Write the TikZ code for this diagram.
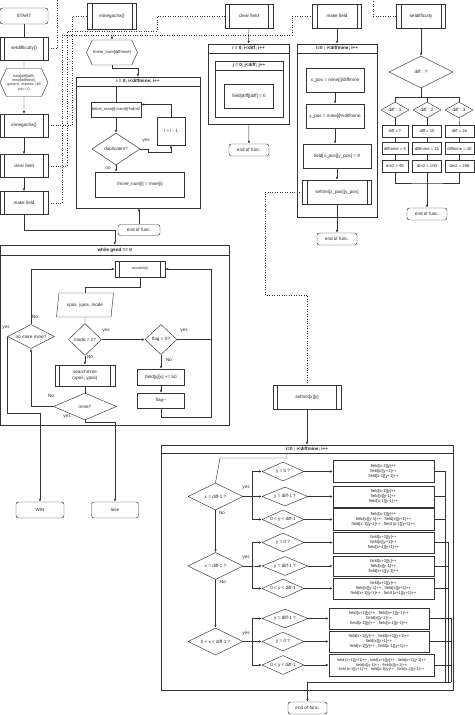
\documentclass[tikz,border=0pt]{standalone}
\usepackage{fontspec}
\setmainfont{Liberation Sans}
\usepackage{tikz}
\usetikzlibrary{shapes.geometric, shapes.symbols, arrows.meta, calc, positioning}
\tikzstyle{base} = [draw=black!80, line width=0.45pt, inner sep=0pt, text=black!85,
font=\fontsize{4.6}{5.4}\selectfont, align=center]
\tikzstyle{process} = [base, rectangle]
\tikzstyle{term} = [base, rectangle, rounded corners=2.5pt]
\tikzstyle{predef} = [process, path picture={
  \draw[black!80, line width=0.45pt]
  ([xshift=4.5pt]path picture bounding box.north west) -- ([xshift=4.5pt]path picture bounding box.south west)
  ([xshift=-4.5pt]path picture bounding box.north east) -- ([xshift=-4.5pt]path picture bounding box.south east);}]
\tikzstyle{decision} = [base, diamond]
\tikzstyle{prep} = [base, signal, signal to=east and west, signal pointer angle=130]
\tikzstyle{io} = [base, trapezium, trapezium left angle=68, trapezium right angle=112,
trapezium stretches=true]
\tikzstyle{loopbody} = [base, rectangle]
\tikzstyle{loophead} = [base, rectangle, font=\bfseries\fontsize{4.6}{5.4}\selectfont]
\tikzstyle{cell} = [process, font=\fontsize{4.2}{5}\selectfont]
\tikzstyle{lbl} = [text=black!85, inner sep=0pt, font=\fontsize{4.6}{5.4}\selectfont]
\tikzstyle{link} = [draw=black!80, line width=0.45pt]
\tikzstyle{arr} = [link, -{Latex[length=3pt,width=2.4pt]}]
\tikzstyle{dots} = [link, dotted]
\newcommand{\dtext}[1]{\makebox[0pt]{#1}}

\begin{document}
\begin{tikzpicture}[x=1pt, y=-1pt]
  \fill[white] (0,0) rectangle (474,715);
  \useasboundingbox (0,0) rectangle (474,715);

  % main program
  \node[term, minimum width=48pt, minimum height=16pt] (start) at (24,16) {START};
  \node[predef, minimum width=48pt, minimum height=23pt] (setdiff) at (24,48.5) {setdifficulty()};
  \node[prep, minimum width=48pt, minimum height=28pt, font=\fontsize{3.6}{4.3}\selectfont]
    (initvars) at (24,82.5) {field[diff][diff],\\ mine[diffmine],\\ gend=0, maxsec =60\\ win = 0};
  \node[predef, minimum width=48pt, minimum height=23pt] (gacha) at (24,125.5) {minegacha()};
  \node[predef, minimum width=48pt, minimum height=23pt] (clearf) at (24,166) {clear field};
  \node[predef, minimum width=48pt, minimum height=23pt] (makef) at (24,203) {make field};
  \draw[link] (start) -- (setdiff);
  \draw[link] (setdiff) -- (initvars);
  \draw[arr] (initvars) -- (gacha);
  \draw[arr] (gacha) -- (clearf);
  \draw[arr] (clearf) -- (makef);

  % minegacha()
  \node[predef, minimum width=49pt, minimum height=26pt] (gachadef) at (112,16) {minegacha()};
  \node[prep, minimum width=51pt, minimum height=25pt, font=\fontsize{4.2}{5}\selectfont]
    (fmine) at (112,52.5) {fmine\_num[diffmine]};
  \node[loopbody, minimum width=124pt, minimum height=131pt] (mgloop) at (138,142.5) {};
  \node[loophead, minimum width=124pt, minimum height=9pt] (mgloophd) at (138,81.5) {i = 0; i<diffmine; i++};
  \node[process, minimum width=50pt, minimum height=15pt, font=\fontsize{4.1}{5}\selectfont]
    (randbox) at (116,109.5) {fmine\_num[i]=rand()\%dm2};
  \node[decision, minimum width=48pt, minimum height=32pt] (dupl) at (116,149) {\dtext{duplicates?}};
  \node[process, minimum width=28pt, minimum height=28pt] (dec) at (171,131) {i = i - 1};
  \node[process, minimum width=89pt, minimum height=25pt] (assign) at (140,184.5) {fmine\_num[i] = mine[i]};
  \node[term, minimum width=42pt, minimum height=11pt] (mgend) at (139,230) {end of func.};
  \draw[arr] (gachadef) -- (fmine);
  \draw[arr] (fmine.south) -- ++(0,3) -| (mgloophd.north);
  \draw[link] (randbox.north |- mgloophd.south) -- (randbox.north);
  \draw[arr] (randbox) -- (dupl);
  \draw[arr] (dupl.east) -- ++(8,0) |- ($(dec.south)+(0,7)$) -- (dec.south);
  \draw[arr] (dec.north) |- ($(randbox.east)+(0,-5)$);
  \draw[arr] (dupl.south) -- (dupl.south |- assign.north);
  \draw[arr] (mgend.north) -- (mgend.north |- mgloop.south);
  \node[lbl] (yesdup) at (146,141) {yes};
  \node[lbl] (nodup) at (108,168) {no};

  % clear field
  \node[predef, minimum width=48pt, minimum height=24pt] (cleardef) at (249,16) {clear field};
  \node[loopbody, minimum width=81pt, minimum height=80pt] (clrouter) at (248.5,84) {};
  \node[loophead, minimum width=81pt, minimum height=9pt] (clrouterhd) at (248.5,48.5) {i = 0; i<diff; i++};
  \node[loopbody, minimum width=68pt, minimum height=56pt] (clrinner) at (249,89) {};
  \node[loophead, minimum width=68pt, minimum height=9pt] (clrinnerhd) at (249,65.5) {j = 0; j<diff; j++};
  \node[process, minimum width=49pt, minimum height=24pt] (zero) at (249,96) {field[diff][diff] = 0};
  \node[term, minimum width=40pt, minimum height=12pt] (clrend) at (249,150) {end of func.};
  \draw[arr] (cleardef) -- (clrouterhd);
  \draw[arr] (clrouter) -- (clrend);

  % make field
  \node[predef, minimum width=49pt, minimum height=24pt] (makedef) at (337,16) {make field};
  \node[loopbody, minimum width=80pt, minimum height=173pt] (mkloop) at (337,130.5) {};
  \node[loophead, minimum width=80pt, minimum height=9pt] (mkloophd) at (337,48.5) {i=0 ; i<diffmine; i++};
  \node[process, minimum width=58pt, minimum height=24pt] (xpos) at (335,80) {x\_pos = mine[i]/diffmine};
  \node[process, minimum width=58pt, minimum height=24pt] (ypos) at (335,116) {y\_pos = mine[i]\%diffmine};
  \node[process, minimum width=68pt, minimum height=24pt] (setnine) at (337,156) {field[x\_pos][y\_pos] = 9};
  \node[predef, minimum width=69pt, minimum height=24pt] (sethintcall) at (337,192) {sethint[x\_pos][y\_pos]};
  \node[term, minimum width=40pt, minimum height=12pt] (mkend) at (337,239) {end of func.};
  \draw[arr] (makedef) -- (mkloophd);
  \draw[arr] (xpos) -- (ypos);
  \draw[arr] (ypos.south) -- (ypos.south |- setnine.north);
  \draw[arr] (setnine) -- (sethintcall);
  \draw[arr] (sethintcall) -- (mkend);

  % setdifficulty
  \node[predef, minimum width=49pt, minimum height=24pt] (diffdef) at (421,16) {setdifficulty};
  \node[decision, minimum width=64pt, minimum height=32pt] (diffq) at (421,72) {\dtext{diff : ?}};
  \node[decision, minimum width=28pt, minimum height=16pt] (dA) at (395,110) {\dtext{diff : 1}};
  \node[decision, minimum width=28pt, minimum height=16pt] (dB) at (427,110) {\dtext{diff : 2}};
  \node[decision, minimum width=28pt, minimum height=16pt] (dC) at (459,110) {\dtext{diff : 3}};
  \node[cell, minimum width=26pt, minimum height=12pt] (diffA) at (395,131) {diff = 7};
  \node[cell, minimum width=29pt, minimum height=12pt] (diffB) at (427,131) {diff = 10};
  \node[cell, minimum width=29pt, minimum height=12pt] (diffC) at (459.5,131) {diff = 16};
  \node[cell, minimum width=26pt, minimum height=12pt] (dmineA) at (395,148.5) {diffmine = 6};
  \node[cell, minimum width=29pt, minimum height=12pt] (dmineB) at (427,148.5) {diffmine = 15};
  \node[cell, minimum width=29pt, minimum height=12pt] (dmineC) at (459.5,148.5) {diffmine = 40};
  \node[cell, minimum width=26pt, minimum height=12pt] (dmA) at (395,166) {dm2 = 49};
  \node[cell, minimum width=29pt, minimum height=12pt] (dmB) at (427,166) {dm2 = 100};
  \node[cell, minimum width=29pt, minimum height=12pt] (dmC) at (459.5,166) {dm2 = 256};
  \node[term, minimum width=40pt, minimum height=12pt] (diffend) at (427,214) {end of func.};
  \draw[arr] (diffdef) -- (diffq);
  \draw[link] (diffq.south) -- ++(0,9) coordinate (split);
  \draw[link] (dA.north) |- (split) -| (dC.north);
  \draw[link] (dB.north) -- (dB.north |- split);
  \foreach \c in {A,B,C} {
    \draw[link] (d\c) -- (diff\c);
    \draw[link] (diff\c) -- (dmine\c);
    \draw[link] (dmine\c) -- (dm\c);
  }
  \coordinate (join) at (427,183);
  \draw[link] (dmA.south) |- (join) -| (dmC.south);
  \draw[link] (dmB.south) -- (join);
  \draw[arr] (join) -- (diffend);

  % game loop
  \node[loopbody, minimum width=228.5pt, minimum height=180pt] (whilebody) at (114.75,335) {};
  \node[loophead, minimum width=228.5pt, minimum height=10pt] (whilehd) at (114.75,250) {while gend == 0};
  \node[predef, minimum width=50pt, minimum height=16pt, font=\fontsize{3.4}{4}\selectfont]
    (showf) at (140,269) {showfield()};
  \node[io, minimum width=57pt, minimum height=24pt] (inp) at (85,305) {xpos, ypos, mode};
  \node[decision, minimum width=33pt, minimum height=32pt] (modeq) at (85,339.5) {\dtext{mode = 2?}};
  \node[decision, minimum width=32pt, minimum height=30pt] (flagq) at (161,339.5) {\dtext{flag > 0?}};
  \node[predef, minimum width=60pt, minimum height=21pt] (search) at (85,375.5) {searchmine\\(xpos, ypos)};
  \node[decision, minimum width=63pt, minimum height=27pt] (mineq) at (85,406.5) {\dtext{mine?}};
  \node[decision, minimum width=47pt, minimum height=24pt] (nomore) at (31,336.5) {\dtext{no more mine?}};
  \node[process, minimum width=47pt, minimum height=16pt] (addfifty) at (161,377) {field[y][x] += 50};
  \node[process, minimum width=47pt, minimum height=15pt] (flagdec) at (161,400.5) {flag-{}-};
  \node[term, minimum width=48pt, minimum height=16pt] (win) at (40,510) {WIN};
  \node[term, minimum width=47pt, minimum height=16pt] (lose) at (115,510) {lose};
  \coordinate (flagret) at (211,339.5);
  \draw[arr] (makef.south) -- ++(0,15.5) -| (whilehd.north);
  \draw[link] (showf.south) -- ++(0,10) -| (inp.north);
  \draw[link] (inp) -- (modeq);
  \draw[arr] (modeq) -- (flagq);
  \draw[arr] (modeq) -- (search);
  \draw[link] (search) -- (mineq);
  \draw[arr] (mineq.west) -| (nomore.south);
  \draw[arr] (nomore.north) |- (showf.west);
  \draw[arr] (nomore.west) -- ++(0,76.5) -| (win.north);
  \draw[arr] (mineq.south) -- ++(0,2) -| (lose.north);
  \draw[arr] (flagq.east) -- (flagret) |- (showf.east);
  \draw[arr] (flagq) -- (addfifty);
  \draw[arr] (addfifty) -- (flagdec);
  \draw[link] (flagdec.south) -- ++(0,9) -| (flagret);
  \node[lbl] (ymode) at (106,331) {yes};
  \node[lbl] (nmode) at (90,357) {No};
  \node[lbl] (nmine) at (51,396) {No};
  \node[lbl] (ymine) at (67,417) {yes};
  \node[lbl] (nmore) at (35,317) {No};
  \node[lbl] (ymore) at (6,328) {yes};
  \node[lbl] (yflag) at (184,331) {yes};
  \node[lbl] (nflag) at (169,360) {No};

  % sethint
  \node[predef, minimum width=68pt, minimum height=24pt] (sethintdef) at (307,397) {sethint[x][y]};
  \node[loopbody, minimum width=292pt, minimum height=245pt] (shloop) at (307,567.5) {};
  \node[loophead, minimum width=292pt, minimum height=8pt] (shloophd) at (307,449) {i=0 ; i<diffmine; i++};
  \node[decision, minimum width=55pt, minimum height=27pt] (xq1) at (215.5,496.5) {\dtext{x = diff-1 ?}};
  \node[decision, minimum width=55pt, minimum height=27pt] (xq2) at (215.5,566) {\dtext{x = diff-1 ?}};
  \node[decision, minimum width=55pt, minimum height=27pt] (xq3) at (215.5,641.5) {\dtext{0 < x < diff-1 ?}};
  \node[decision, minimum width=42pt, minimum height=19pt] (yA1) at (283,471.5) {\dtext{y = 0 ?}};
  \node[decision, minimum width=46pt, minimum height=19pt] (yB1) at (285,496.5) {\dtext{y = diff-1 ?}};
  \node[decision, minimum width=42pt, minimum height=19pt] (yC1) at (283,519.5) {\dtext{0 < y < diff-1}};
  \node[decision, minimum width=42pt, minimum height=19pt] (yA2) at (283,542.5) {\dtext{y = 0 ?}};
  \node[decision, minimum width=46pt, minimum height=19pt] (yB2) at (285,566) {\dtext{y = diff-1 ?}};
  \node[decision, minimum width=42pt, minimum height=19pt] (yC2) at (283,588.5) {\dtext{0 < y < diff-1}};
  \node[decision, minimum width=46pt, minimum height=19pt] (yA3) at (285,618.5) {\dtext{y = diff-1 ?}};
  \node[decision, minimum width=42pt, minimum height=19pt] (yB3) at (283,641.5) {\dtext{y = 0 ?}};
  \node[decision, minimum width=42pt, minimum height=19pt] (yC3) at (283,665) {\dtext{0 < y < diff-1}};
  \node[cell, minimum width=101pt, minimum height=22pt] (fA1) at (383.5,471.5)
    {field[x-1][y]++\\field[x][y+1]++\\field[x-1][y+1]++};
  \node[cell, minimum width=101pt, minimum height=21pt] (fB1) at (383.5,496.5)
    {field[x-1][y]++\\field[x][y-1]++\\field[x-1][y-1]++};
  \node[cell, minimum width=101pt, minimum height=22pt] (fC1) at (383.5,519.5)
    {field[x-1][y]++\\field[x][y-1]++ , field[x][y+1]++\\field[x-1][y-1]++ , field [x-1][y+1]++};
  \node[cell, minimum width=101pt, minimum height=21pt] (fA2) at (383.5,542.5)
    {field[x+1][y]++\\field[x][y+1]++\\field[x+1][y+1]++};
  \node[cell, minimum width=101pt, minimum height=20pt] (fB2) at (383.5,566)
    {field[x+1][y]++\\field[x][y-1]++\\field[x+1][y-1]++};
  \node[cell, minimum width=101pt, minimum height=21pt] (fC2) at (383.5,588.5)
    {field[x+1][y]++\\field[x][y-1]++ , field[x][y+1]++\\field[x+1][y-1]++ , field [x+1][y+1]++};
  \node[cell, minimum width=100pt, minimum height=21pt] (fA3) at (379,618.5)
    {field[x+1][y]++ , field[x+1][y-1]++\\field[x][y-1]++\\field[x-1][y]++ , field[x-1][y-1]++};
  \node[cell, minimum width=100pt, minimum height=21pt] (fB3) at (379,641.5)
    {field[x+1][y]++ , field[x+1][y+1]++\\field[x][y+1]++\\field[x-1][y]++ , field[x-1][y+1]++};
  \node[cell, minimum width=105pt, minimum height=22pt, font=\fontsize{3.9}{4.8}\selectfont] (fC3) at (381.5,665)
    {field [x+1][y+1]++ , field[x+1][y]++ , field[x+1][y-1]++\\field[x][y-1]++ , field[x][y+1]++\\field [x-1][y+1]++ , field[x-1][y]++ , field[x-1][y-1]++};
  \node[term, minimum width=39pt, minimum height=12pt] (shend) at (307.5,708) {end of func.};
  \draw[dots] (sethintcall.west) -| (265,295) -| (sethintdef.north);
  \draw[arr] (sethintdef) -- (shloophd);
  \draw[link] ($(shloophd.south)+(-20,0)$) |- (220,458) -- (xq1.north);
  \draw[arr] (xq1) -- (xq2);
  \draw[arr] (xq2) -- (xq3);
  \foreach \g in {1,2,3} {
    \foreach \r in {A,B,C} {
      \draw[arr] (xq\g.east) -- ++(9,0) |- (y\r\g.west);
      \draw[arr] (y\r\g.east) -- (f\r\g.west);
    }
  }
  \coordinate (colA) at (445,682);
  \coordinate (colB) at (448,682);
  \coordinate (colC) at (451,682);
  \foreach \r in {A,B,C} {
    \draw[link] (f\r1.east) -| (colA);
    \draw[link] (f\r2.east) -| (colB);
    \draw[link] (f\r3.east) -| (colC);
  }
  \draw[arr] (colC) -| (shend.north);
  \node[lbl] (yx1) at (246,488) {yes};
  \node[lbl] (nx1) at (222,513) {No};
  \node[lbl] (yx2) at (246,558) {yes};
  \node[lbl] (nx2) at (223,582) {No};
  \node[lbl] (yx3) at (246,634) {yes};

  % calls to the functions
  \draw[dots] (setdiff.east) -- (57,48.5) -- (57,-5) -| (373,16) -- (diffdef.west);
  \draw[dots] (gacha.east) -| (72,16) -- (gachadef.west);
  \draw[dots] (clearf.east) -| (67,31) -| (157,16) -- (cleardef.west);
  \draw[dots] (makef.east) -| (62,35) -| (292,16) -- (makedef.west);
\end{tikzpicture}
\end{document}
